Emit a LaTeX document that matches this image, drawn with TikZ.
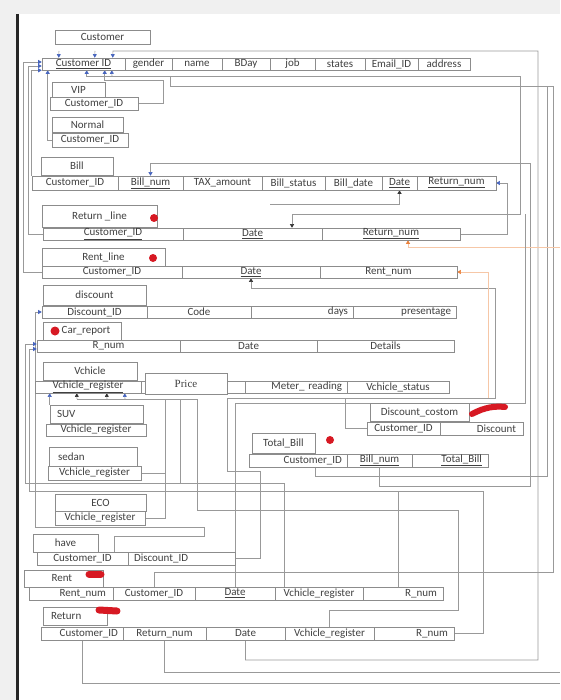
\documentclass[tikz,border=0pt]{standalone}
\usepackage{fontspec}
\setmainfont{Carlito}
\newfontfamily\pricefont{Liberation Serif}
\usetikzlibrary{arrows.meta}
\definecolor{tipblue}{RGB}{70,100,190}
\definecolor{tiporange}{RGB}{235,130,60}
\definecolor{markred}{RGB}{215,25,35}
\tikzset{
  tblbox/.style={draw=black!45, fill=white, inner sep=0pt, text=black!75,
    font=\fontsize{11}{12}\selectfont, line width=0.6pt},
  tleft/.style={text width=#1, align=left},
  tright/.style={text width=#1, align=right},
  link/.style={draw=black!40, line width=0.55pt},
  orlink/.style={draw=tiporange!45, line width=0.55pt},
  bt/.tip={Triangle[width=4pt,length=3.5pt,color=tipblue]},
  kt/.tip={Triangle[width=4pt,length=3.5pt,color=black!80]},
  ot/.tip={Triangle[width=4pt,length=3.5pt,color=tiporange]},
  redmark/.style={draw=markred, line cap=round},
}
\pgfdeclarelayer{bg}
\pgfsetlayers{bg,main}
\newcommand\boxat[7][]{\node[tblbox,minimum width={#4-#3},minimum height={#6-#5},#1] (#2) at ({(#3+#4)/2},{(#5+#6)/2}) {#7};}

\begin{document}
\begin{tikzpicture}[x=1pt,y=-1pt]
		\useasboundingbox (0,0) rectangle (560,700);
		%%%%% START %%%%%
		
		\boxat{tCust}{55}{150}{30}{44}{Customer}
		\boxat{cuId}{42}{125}{58}{70}{\underline{Customer ID}}
		\boxat{cuGen}{125}{172}{58}{70}{gender}
		\boxat{cuName}{172}{222}{58}{70}{name}
		\boxat{cuBday}{222}{270}{58}{70}{BDay}
		\boxat{cuJob}{270}{315}{58}{70}{job}
		\boxat{cuStat}{315}{365}{58}{70}{states}
		\boxat{cuMail}{365}{418}{58}{70}{Email\_ID}
		\boxat{cuAddr}{418}{470}{58}{70}{address}
		
		\boxat{tVip}{52}{105}{82}{97}{VIP}
		\boxat{vipId}{50}{138}{97}{110}{Customer\_ID}
		\boxat{tNorm}{52}{123}{117}{132}{Normal}
		\boxat{nrId}{52}{128}{133}{147}{Customer\_ID}
		
		\boxat{tBill}{41}{113}{157}{175}{Bill}
		\boxat{biCust}{32}{118}{176}{190}{Customer\_ID}
		\boxat{biNum}{118}{183}{176}{190}{\underline{Bill\_num}}
		\boxat{biTax}{183}{262}{176}{190}{TAX\_amount}
		\boxat{biStat}{262}{325}{176}{190}{Bill\_status}
		\boxat{biDate}{325}{382}{176}{190}{Bill\_date}
		\boxat{biDat2}{382}{417}{176}{190}{\underline{Date}}
		\boxat{biRet}{417}{496}{176}{190}{\underline{Return\_num}}
		
		\boxat{tRetl}{42}{157}{205}{227}{Return \_line}
		\boxat{rlCust}{43}{183}{228}{240}{\underline{Customer\_ID}}
		\boxat{rlDate}{183}{322}{228}{240}{\underline{Date}}
		\boxat{rlRet}{322}{460}{228}{240}{\underline{Return\_num}}
		
		\boxat{tRntl}{42}{165}{248}{266}{Rent\_line}
		\boxat{rnCust}{42}{182}{266}{278}{Customer\_ID}
		\boxat{rnDate}{182}{320}{266}{278}{\underline{Date}}
		\boxat{rnNum}{320}{457}{266}{278}{Rent\_num}
		
		\boxat{tDisc}{43}{146}{285}{305}{discount}
		\boxat{dsId}{42}{147}{306}{318}{Discount\_ID}
		\boxat{dsCode}{147}{251}{306}{318}{Code}
		\boxat[tright=92pt]{dsDays}{251}{353}{306}{318}{days}
		\boxat[tright=93pt]{dsPres}{353}{456}{306}{318}{presentage}
		
		\boxat{tCar}{43}{121}{322}{340}{\hspace*{8pt}Car\_report}
		\boxat{crNum}{37}{180}{340}{352}{R\_num}
		\boxat{crDate}{180}{317}{340}{352}{Date}
		\boxat{crDet}{317}{454}{340}{352}{Details}
		
		\boxat{tVch}{43}{137}{362}{380}{Vchicle}
		\boxat{vcReg}{35}{141}{381}{393}{\underline{Vchicle\_register}}
		\boxat{vcGap}{141}{227}{381}{393}{}
		\boxat{vcGap2}{227}{245}{381}{393}{}
		\boxat[tright=92pt]{vcMet}{245}{347}{381}{393}{Meter\_ reading}
		\boxat{vcStat}{347}{449}{381}{393}{Vchicle\_status}
		\boxat{pr}{145}{227}{373}{394}{\pricefont Price}
		
		\boxat[tleft=79pt]{tSuv}{50}{143}{405}{423}{SUV}
		\boxat{suvReg}{46}{146}{424}{436}{Vchicle\_register}
		\boxat[tleft=70pt]{tSed}{49}{137}{447}{466}{sedan}
		\boxat{sdReg}{48}{141}{466}{480}{Vchicle\_register}
		\boxat{tEco}{55}{146}{494}{511}{ECO}
		\boxat{ecoReg}{55}{145}{511}{525}{Vchicle\_register}
		
		\boxat{tDc}{370}{469}{403}{421}{Discount\_costom}
		\boxat{dcCust}{367}{440}{422}{435}{Customer\_ID}
		\boxat[tright=69pt]{dcDisc}{440}{523}{422}{435}{Discount}
		
		\boxat{tTb}{252}{315}{433}{453}{Total\_Bill}
		\boxat[tright=88pt]{tbCust}{249}{347}{454}{467}{Customer\_ID}
		\boxat{tbNum}{347}{412}{454}{467}{\underline{Bill\_num}}
		\boxat[tright=64pt]{tbTot}{412}{488}{454}{467}{\underline{Total\_Bill}}
		
		\boxat{tHave}{33}{98}{534}{552}{have}
		\boxat{hvCust}{37}{128}{552}{565}{Customer\_ID}
		\boxat[tleft=95pt]{hvDisc}{128}{235}{552}{565}{Discount\_ID}
		
		\boxat[tleft=24pt]{tRent}{24}{103}{570}{587}{Rent}
		\boxat[tright=70pt]{reNum}{29}{113}{587}{600}{Rent\_num}
		\boxat{reCust}{113}{195}{587}{600}{Customer\_ID}
		\boxat{reDate}{195}{275}{587}{600}{\underline{Date}}
		\boxat{reReg}{275}{363}{587}{600}{Vchicle\_register}
		\boxat[tright=68pt]{reR}{363}{443}{587}{600}{R\_num}
		
		\boxat[tleft=48pt]{tRet}{43}{107}{607}{625}{Return}
		\boxat[tright=72pt]{rtCust}{41}{123}{627}{640}{Customer\_ID}
		\boxat{rtNum}{123}{206}{627}{640}{Return\_num}
		\boxat{rtDate}{206}{285}{627}{640}{Date}
		\boxat{rtReg}{285}{374}{627}{640}{Vchicle\_register}
		\boxat[tright=68pt]{rtR}{374}{454}{627}{640}{R\_num}
		
		\coordinate (bdEnd) at (270,204);
		
		\begin{pgfonlayer}{bg}
		\fill[black!6] (0,0) rectangle (560,700);
		\fill[white] (18,14) rectangle (560,700);
		
		% customer links
		\draw[link,-bt] (rtDate.south) |- (538,660) |- (113,51) -- ([xshift=71pt]cuId.north west);
		\draw[link,-bt] (59,51) -- ([xshift=17pt]cuId.north west);
		\draw[link,-bt] (95,51) -- ([xshift=53pt]cuId.north west);
		\draw[link,bt-kt] ([xshift=45pt]cuId.south west) |- (520,76) |- (292,214) -- (rlDate.north -| 292,0);
		\draw[link,-bt] (112,76) -- ([xshift=70pt]cuId.south west);
		\draw[link] (170,76) |- (553,86) |- (reCust.north |- 0,572) -- (reCust.north);
		\draw[link,-bt] (vipId.east) -| (163,80) -| ([xshift=63pt]cuId.south west);
		\draw[link,-bt] (nrId.west) -| ([xshift=6pt]cuId.south west);
		\draw[link,-bt] (rnCust.west) -| (23,62) -- (cuId.west |- 0,62);
		\draw[link,-bt] (rlCust.west) -| (28,66) -- (cuId.west |- 0,66);
		\draw[link,-bt] (biCust.north west) |- (cuId.south west);
		\draw[link] ([xshift=17pt]tbCust.south) |- (547,476) -- (547,86);
		
		% bill links
		\draw[link,-bt] (tbNum.south) |- (530,486) |- (biNum.north |- 0,163) -- (biNum.north);
		\draw[link,-bt] (rlRet.east) -| (507,183) -- (biRet.east);
		\draw[link,kt-] (biDat2.south) |- (bdEnd);
		
		% rent line / discount
		\draw[link,kt-] (rnDate.south) |- (495,288) |- (345,398) |- (dcCust.west);
		\draw[orlink,-ot] (488,398) |- (rnNum.east);
		\draw[orlink,ot-] ([xshift=17pt]rlRet.south) |- (560,247);
		\draw[link] (hvDisc.east) -| (260,471) -| (227,398) -- (345,398);
		\draw[link,-bt] ([xshift=78pt]hvCust.north west) |- (204,536) |- (35,527) |- (dsId.west);
		
		% vehicle links
		\draw[link] (77,399) -- (197,399);
		\draw[link,-kt] (77,399) -- ([xshift=42pt]vcReg.south west);
		\draw[link,-kt] (107,399) -- ([xshift=72pt]vcReg.south west);
		\draw[link,-bt] (125,399) -- ([xshift=90pt]vcReg.south west);
		\draw[link,-bt] (tSuv.north west) -- (tSuv.north west |- vcReg.south);
		\draw[link] (ecoReg.east) -| (165,399);
		\draw[link] (sdReg.east) -- (165,0 |- sdReg.east);
		\draw[link] (180,399) -- (180,483);
		\draw[link] (197,399) |- (458,510) |- (rtReg.north |- 0,610) -- (rtReg.north);
		\draw[link,-bt] ([xshift=10pt]reReg.north west) |- (25,483) |- (crNum.west |- 0,344);
		\draw[link,-bt] ([xshift=36pt]reR.north west) |- (29,491) |- (crNum.west |- 0,349);
		\draw[link] (rtR.east) -| (483,491) -- (399,491);
		\draw[link] (reDate.north) |- (525,403) -- (525,214);
		
		% return links
		\draw[link] (rtCust.south) |- (560,683);
		\draw[link] (rtNum.south) |- (560,672);
		\end{pgfonlayer}
		
		\draw[line width=3pt, black!85] (17,14) -- (17,700);
		
		\fill[markred] (154,218) circle (4);
		\fill[markred] (153,258) circle (4);
		\fill[markred] (55,331) circle (4.5);
		\fill[markred] (330,440) circle (4);
		\draw[redmark, line width=6pt] (472,414) .. controls (485,407) and (495,406) .. (505,407);
		\draw[redmark, line width=7pt] (89,574) -- (101,574);
		\draw[redmark, line width=7pt] (99,610) -- (117,611);
		
		%%%%% END %%%%%
\end{tikzpicture}
\end{document}
